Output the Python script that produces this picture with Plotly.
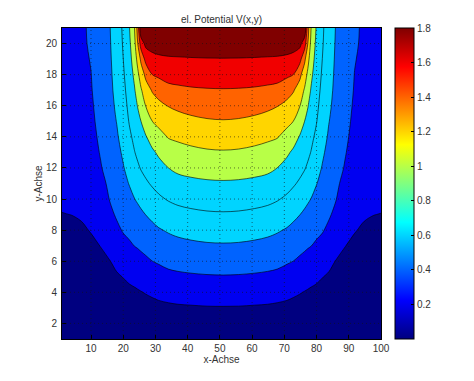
import plotly.graph_objects as go

# ---------------- data ----------------
# columns of the left half (x <= 51) and of the right half (x > 51)
x_left = [1, 4, 7, 10, 13, 16, 18, 20, 22, 23.5, 24.5, 25.5, 27, 29, 31, 34, 37, 41, 46, 51]
x_right = [55.8, 60.8, 64.8, 67.8, 70.8, 72.8, 74.8, 76.3, 77.3, 78.3, 79.8, 81.8,
           83.8, 85.8, 88.8, 91.8, 94.8, 97.8, 100.8]
y_rows = list(range(1, 22))

# estimated potential V(x,y) on the left half, one list per y row (the picture is mirror-symmetric)
v_y01 = [0] * 20
v_y02 = [.025, .025, .026, .029, .034, .04, .0455, .0506, .0556, .0588, .0615, .0645, .069, .074, .08, .085, .089, .092, .094, .095]
v_y03 = [.049, .05, .052, .059, .068, .08, .091, .101, .111, .118, .123, .129, .138, .148, .16, .17, .178, .183, .189, .19]
v_y04 = [.074, .075, .078, .088, .102, .12, .136, .152, .167, .176, .185, .194, .208, .226, .243, .26, .272, .28, .287, .29]
v_y05 = [.099, .1, .104, .118, .136, .16, .182, .204, .23, .247, .259, .272, .29, .313, .33, .358, .368, .378, .386, .389]
v_y06 = [.123, .125, .13, .147, .17, .199, .238, .274, .304, .325, .337, .352, .371, .399, .417, .443, .46, .472, .483, .486]
v_y07 = [.148, .15, .156, .177, .203, .256, .302, .345, .378, .403, .414, .428, .449, .478, .501, .529, .548, .565, .579, .583]
v_y08 = [.173, .177, .184, .206, .24, .311, .365, .413, .44, .468, .482, .499, .525, .555, .585, .617, .642, .662, .678, .683]
v_y09 = [.197, .201, .212, .234, .277, .367, .42, .46, .497, .532, .55, .57, .602, .639, .677, .715, .741, .761, .777, .782]
v_y10 = [.218, .223, .238, .261, .313, .412, .455, .505, .554, .597, .621, .648, .689, .732, .772, .813, .841, .861, .876, .881]
v_y11 = [.237, .243, .261, .286, .35, .44, .489, .548, .611, .663, .697, .732, .775, .82, .857, .907, .94, .96, .975, .98]
v_y12 = [.254, .261, .282, .309, .388, .475, .523, .589, .664, .728, .773, .811, .849, .895, .939, .999, 1.038, 1.059, 1.076, 1.082]
v_y13 = [.269, .277, .3, .33, .412, .5, .552, .625, .717, .794, .836, .874, .919, .97, 1.028, 1.105, 1.135, 1.158, 1.178, 1.185]
v_y14 = [.282, .291, .316, .348, .433, .522, .58, .662, .77, .843, .893, .937, .988, 1.075, 1.139, 1.21, 1.232, 1.258, 1.28, 1.287]
v_y15 = [.293, .303, .33, .364, .451, .54, .605, .697, .818, .891, .949, .999, 1.093, 1.199, 1.246, 1.307, 1.331, 1.359, 1.382, 1.39]
v_y16 = [.303, .314, .342, .377, .466, .555, .629, .727, .852, .938, 1.008, 1.089, 1.205, 1.304, 1.349, 1.407, 1.4375, 1.466, 1.484, 1.49]
v_y17 = [.311, .323, .351, .389, .478, .567, .651, .754, .883, .986, 1.083, 1.178, 1.313, 1.415, 1.48, 1.545, 1.5625, 1.578, 1.587, 1.59]
v_y18 = [.318, .331, .358, .397, .487, .576, .669, .777, .914, 1.038, 1.158, 1.294, 1.444, 1.599, 1.633, 1.667, 1.676, 1.684, 1.69, 1.692]
v_y19 = [.323, .337, .363, .408, .497, .585, .686, .799, .946, 1.092, 1.262, 1.4375, 1.663, 1.743, 1.766, 1.78, 1.784, 1.789, 1.793, 1.794]
v_y20 = [.327, .342, .367, .423, .509, .594, .7, .815, .976, 1.146, 1.399, 1.693, 1.852, 1.875, 1.885, 1.89, 1.892, 1.894, 1.896, 1.897]
v_y21 = [.33, .345, .37, .429, .514, .601, .708, .826, 1.002, 1.199, 1.48, 1.97, 2, 2, 2, 2, 2, 2, 2, 2]

left_rows = [v_y01, v_y02, v_y03, v_y04, v_y05, v_y06, v_y07, v_y08, v_y09, v_y10, v_y11,
             v_y12, v_y13, v_y14, v_y15, v_y16, v_y17, v_y18, v_y19, v_y20, v_y21]

level_start, level_end, level_step = 0.2, 1.8, 0.2
x_ticks = [10, 20, 30, 40, 50, 60, 70, 80, 90, 100]
y_ticks = [2, 4, 6, 8, 10, 12, 14, 16, 18, 20]
cbar_ticks = [0.2, 0.4, 0.6, 0.8, 1.0, 1.2, 1.4, 1.6, 1.8]
cbar_min, cbar_max = 0.0, 1.8

# full table: left half plus its mirror image
x_cols = x_left + x_right
potential = [row + row[-2::-1] for row in left_rows]


# ---------------- colours (MATLAB jet) ----------------
def jet(s):
    def cl(v):
        return max(0.0, min(1.0, v))
    r = cl(min(4 * s - 1.5, -4 * s + 4.5))
    g = cl(min(4 * s - 0.5, -4 * s + 3.5))
    b = cl(min(4 * s + 0.5, -4 * s + 2.5))
    return "rgb(%d,%d,%d)" % (round(r * 255), round(g * 255), round(b * 255))


jet_scale = [[i / 64, jet(i / 64)] for i in range(65)]

band_cols = [jet(k / 9) for k in range(10)]
band_scale = []
for k in range(8):
    band_scale.append([k / 9, band_cols[k]])
    band_scale.append([(k + 1) / 9, band_cols[k]])
band_scale += [[8 / 9, band_cols[8]], [35 / 36, band_cols[8]],
               [35 / 36, band_cols[9]], [1.0, band_cols[9]]]

fig = go.Figure()
fig.add_trace(go.Contour(
    x=x_cols, y=y_rows, z=potential,
    contours=dict(start=level_start, end=level_end, size=level_step,
                  coloring="fill", showlines=True),
    line=dict(color="black", width=0.6, smoothing=1),
    colorscale=band_scale, showscale=False, hoverinfo="skip",
))

tick_font = dict(family="Liberation Sans, Arial", size=10, color="#333333")

fig.add_trace(go.Scatter(
    x=[None], y=[None], mode="markers", showlegend=False, hoverinfo="skip",
    marker=dict(color=[0], cmin=cbar_min, cmax=cbar_max, colorscale=jet_scale,
                showscale=True,
                colorbar=dict(x=1.0439, xanchor="left", xpad=0,
                              y=0.5, yanchor="middle", ypad=0,
                              len=1.0, lenmode="fraction", thickness=19,
                              outlinewidth=1, outlinecolor="black",
                              tickvals=cbar_ticks, ticks="inside", ticklen=3,
                              tickcolor="black", tickfont=tick_font)),
))

# dotted grid drawn above the filled contours
grid_line = dict(color="rgba(20,20,20,0.6)", width=1, dash="1px,3px")
shapes = []
for xv in x_ticks[:-1]:
    shapes.append(dict(type="line", xref="x", yref="paper", x0=xv, x1=xv, y0=0, y1=1,
                       line=grid_line, layer="above"))
for yv in y_ticks:
    shapes.append(dict(type="line", xref="paper", yref="y", x0=0, x1=1, y0=yv, y1=yv,
                       line=grid_line, layer="above"))

# the page body has an 8px margin, so the figure is 8px smaller than the window
fig.update_layout(
    width=466, height=373,
    margin=dict(l=54, r=93, t=20, b=42),
    paper_bgcolor="white", plot_bgcolor="white",
    font=tick_font,
    title=dict(text="el. Potential V(x,y)", x=0.5, xref="paper", xanchor="center",
               y=1 - 11 / 373, yref="container", yanchor="middle",
               font=tick_font),
    shapes=shapes,
    showlegend=False,
)
fig.update_xaxes(range=[1, 100], tickvals=x_ticks, showgrid=False, zeroline=False,
                 showline=True, mirror=True, linecolor="black", linewidth=1,
                 ticks="inside", ticklen=4, tickcolor="black",
                 title=dict(text="x-Achse", standoff=2, font=tick_font),
                 tickfont=tick_font)
fig.update_yaxes(range=[1, 21], tickvals=y_ticks, showgrid=False, zeroline=False,
                 showline=True, mirror=True, linecolor="black", linewidth=1,
                 ticks="inside", ticklen=4, tickcolor="black", ticklabelstandoff=2,
                 title=dict(text="y-Achse", standoff=1, font=tick_font),
                 tickfont=tick_font)

fig.write_html("out.html")
